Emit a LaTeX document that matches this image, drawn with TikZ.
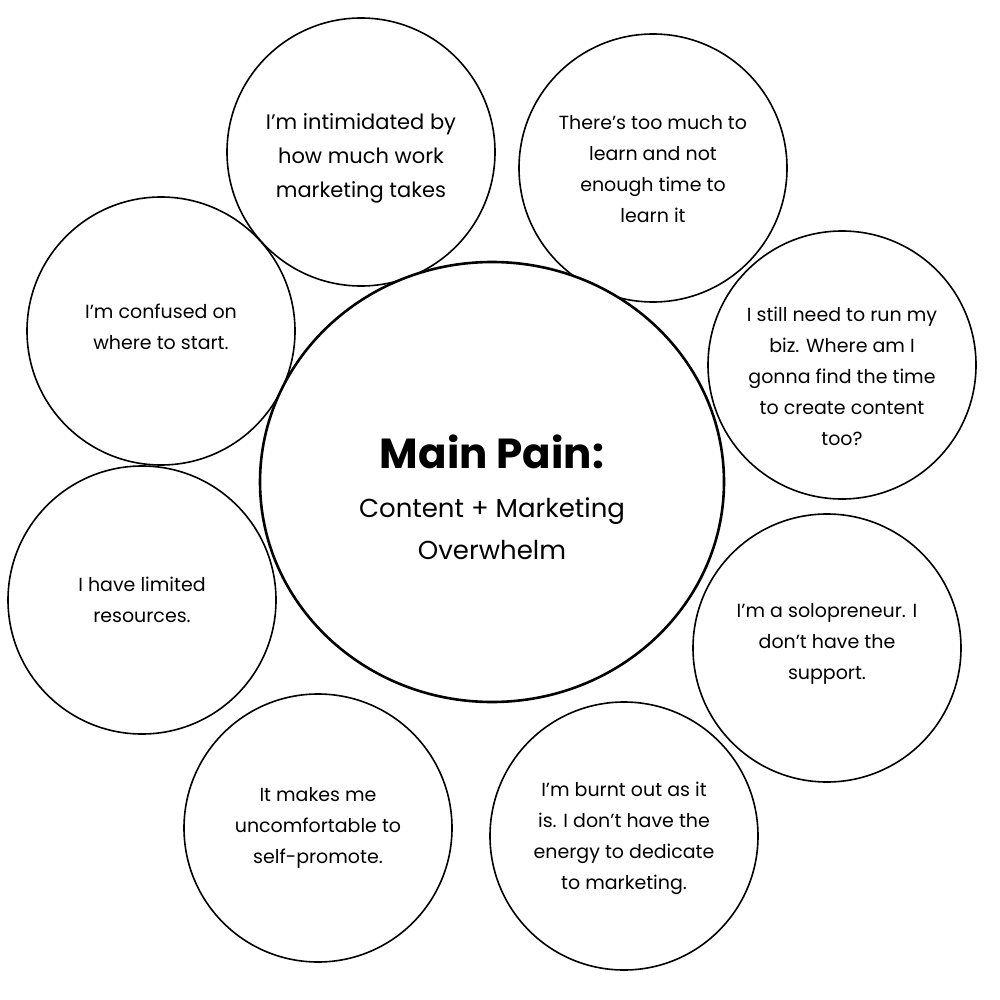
\documentclass[tikz,border=0pt]{standalone}
\usepackage{fontspec}
\setmainfont{Poppins}
\begin{document}
\begin{tikzpicture}[x=1pt,y=-1pt,
  bub/.style={circle,draw=black,line width=1.6pt,fill=white,minimum size=268pt,inner sep=0pt},
  txt/.style={align=center,font=\fontsize{19}{31}\selectfont}]
\useasboundingbox (0,0) rectangle (1000,1000);
\node[bub] (c1) at (361,152) {};
\node[bub] (c2) at (653,168) {};
\node[bub] (c3) at (842,365) {};
\node[bub] (c4) at (827,648) {};
\node[bub] (c5) at (624,836) {};
\node[bub] (c6) at (318,828) {};
\node[bub] (c7) at (142,600) {};
\node[bub] (c8) at (161,331) {};
\draw[line width=2.6pt,fill=white] (492,482) ellipse [x radius=232, y radius=220];
\node[txt,font=\fontsize{21}{34}\selectfont] (t1) at (361,158) {I’m intimidated by\\how much work\\marketing takes};
\node[txt] (t2) at (653,169) {There’s too much to\\learn and not\\enough time to\\learn it};
\node[txt] (t3) at (842,376) {I still need to run my\\biz. Where am I\\gonna find the time\\to create content\\too?};
\node[txt] (t4) at (827,644) {I’m a solopreneur. I\\don’t have the\\support.};
\node[txt] (t5) at (624,838) {I’m burnt out as it\\is. I don’t have the\\energy to dedicate\\to marketing.};
\node[txt] (t6) at (318,828) {It makes me\\uncomfortable to\\self-promote.};
\node[txt] (t7) at (142,600) {I have limited\\resources.};
\node[txt] (t8) at (161,327) {I’m confused on\\where to start.};
\node[font=\fontsize{42}{50}\selectfont\bfseries] (m) at (492,452) {Main Pain:};
\node[align=center,font=\fontsize{26}{42}\selectfont] (s) at (492,529) {Content + Marketing\\Overwhelm};
\end{tikzpicture}
\end{document}
